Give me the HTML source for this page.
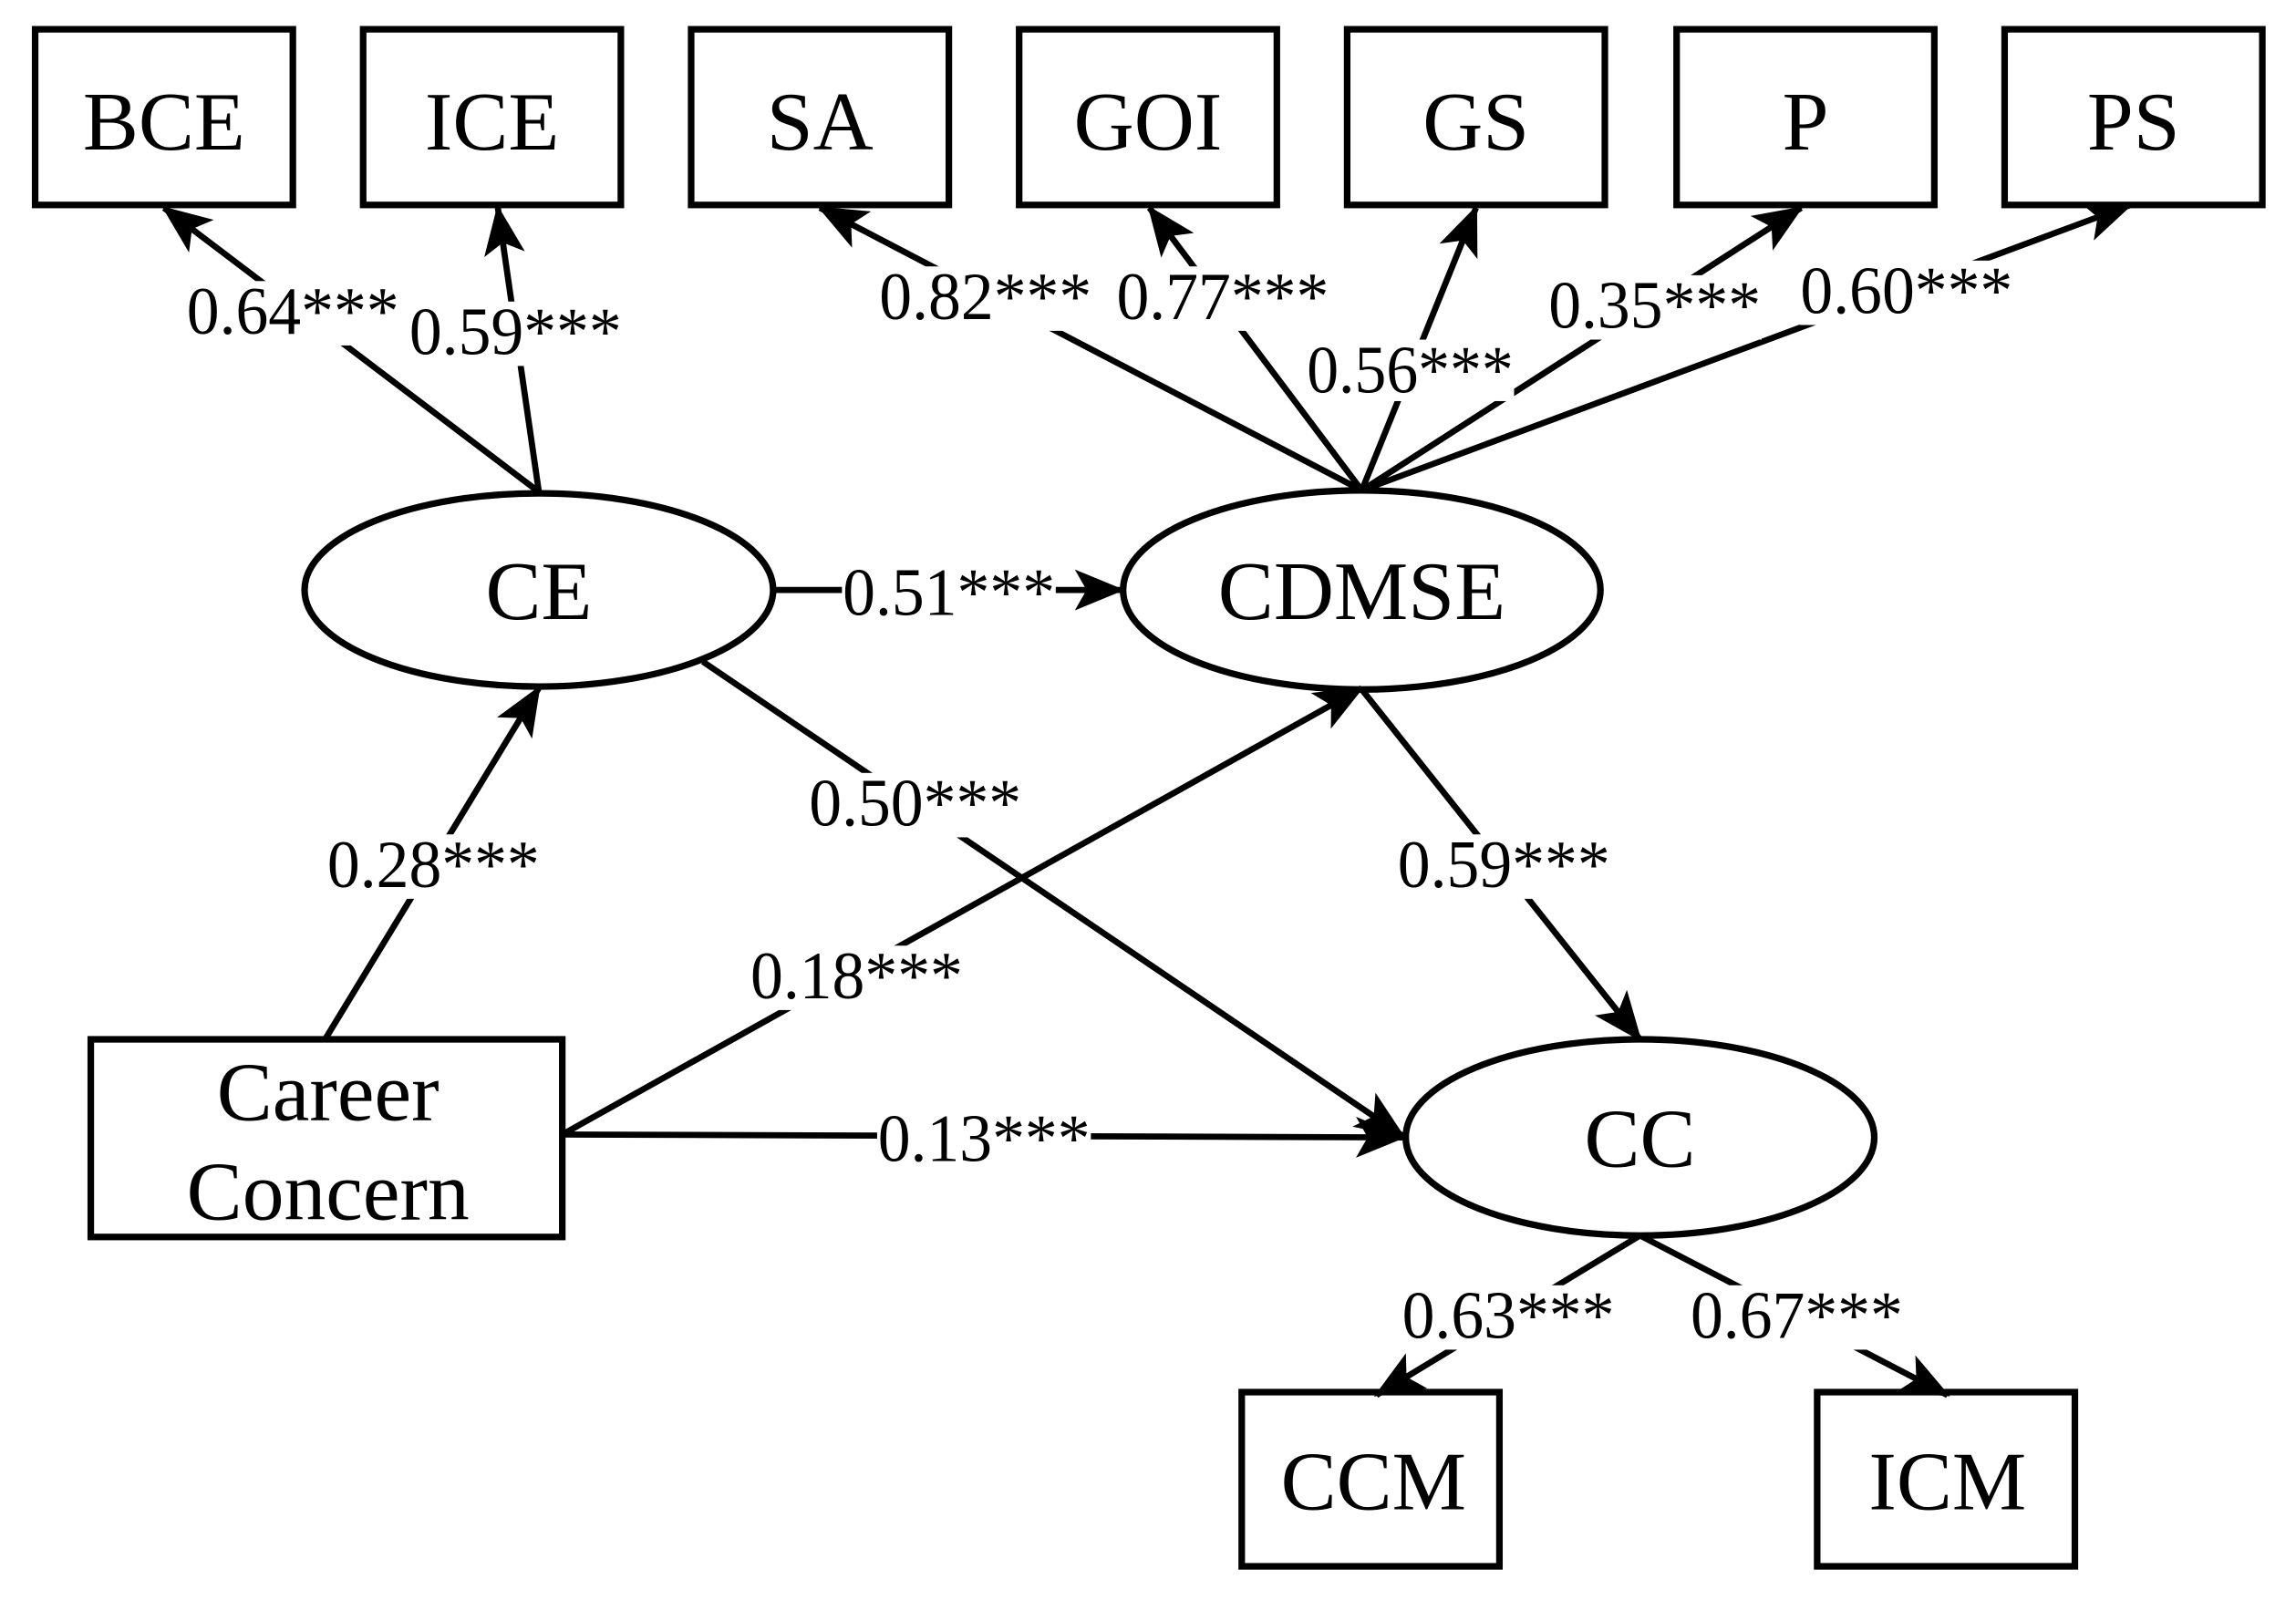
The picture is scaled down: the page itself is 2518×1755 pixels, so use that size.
<!DOCTYPE html>
<html><head><meta charset="utf-8"><style>
html,body{margin:0;padding:0;background:#fff;}
svg{display:block;}
text{font-family:"Liberation Serif",serif;fill:#000;}
.n{font-size:57px;}
.l{font-size:46px;}
</style></head><body>
<svg width="2518" height="1755" viewBox="0 0 1568 1093" preserveAspectRatio="none" xmlns="http://www.w3.org/2000/svg">
<defs>
<marker id="a" markerUnits="userSpaceOnUse" markerWidth="34" markerHeight="28" refX="32" refY="14" orient="auto">
<path d="M0,0 L34,14 L0,28 L8,14 Z" fill="#000"/>
</marker>
</defs>
<g fill="none" stroke="#000" stroke-width="4.2">
<rect x="24" y="20" width="176" height="120" stroke-width="4.5"/>
<rect x="248" y="20" width="176" height="120" stroke-width="4.5"/>
<rect x="472" y="20" width="176" height="120" stroke-width="4.5"/>
<rect x="696" y="20" width="176" height="120" stroke-width="4.5"/>
<rect x="920" y="20" width="176" height="120" stroke-width="4.5"/>
<rect x="1145" y="20" width="176" height="120" stroke-width="4.5"/>
<rect x="1369" y="20" width="176" height="120" stroke-width="4.5"/>
<rect x="62" y="710" width="322" height="135" stroke-width="4.5"/>
<rect x="848" y="951" width="176" height="119" stroke-width="4.5"/>
<rect x="1241" y="951" width="176" height="119" stroke-width="4.5"/>
<ellipse cx="368" cy="403" rx="160" ry="66" stroke-width="4.5"/>
<ellipse cx="930" cy="403" rx="163" ry="68" stroke-width="4.5"/>
<ellipse cx="1120" cy="777" rx="160" ry="67" stroke-width="4.5"/>

<line x1="368" y1="336" x2="112" y2="142" marker-end="url(#a)"/>
<line x1="368" y1="336" x2="340" y2="142" marker-end="url(#a)"/>
<line x1="930" y1="335" x2="560" y2="142" marker-end="url(#a)"/>
<line x1="930" y1="335" x2="785" y2="142" marker-end="url(#a)"/>
<line x1="930" y1="335" x2="1008" y2="142" marker-end="url(#a)"/>
<line x1="930" y1="335" x2="1230" y2="142" marker-end="url(#a)"/>
<line x1="930" y1="335" x2="1455" y2="140" marker-end="url(#a)"/>
<line x1="528" y1="403" x2="766" y2="403" marker-end="url(#a)"/>
<line x1="480" y1="452" x2="958" y2="776" marker-end="url(#a)"/>
<line x1="222" y1="710" x2="368" y2="470" marker-end="url(#a)"/>
<line x1="384" y1="775" x2="930" y2="470" marker-end="url(#a)"/>
<line x1="384" y1="775" x2="958" y2="777" marker-end="url(#a)"/>
<line x1="930" y1="471" x2="1120" y2="710" marker-end="url(#a)"/>
<line x1="1120" y1="844" x2="940" y2="953" marker-end="url(#a)"/>
<line x1="1120" y1="844" x2="1330" y2="953" marker-end="url(#a)"/>
</g>
<g fill="#fff">
<rect x="127" y="192" width="146" height="44"/>
<rect x="279" y="206" width="146" height="44"/>
<rect x="600" y="182" width="146" height="44"/>
<rect x="762" y="182" width="146" height="44"/>
<rect x="892" y="232" width="142" height="42"/>
<rect x="1057" y="188" width="146" height="44"/>
<rect x="1229" y="178" width="146" height="44"/>
<rect x="575" y="384" width="146" height="44"/>
<rect x="552" y="528" width="146" height="44"/>
<rect x="223" y="570" width="146" height="44"/>
<rect x="512" y="646" width="146" height="44"/>
<rect x="599" y="757" width="146" height="44"/>
<rect x="954" y="570" width="146" height="44"/>
<rect x="957" y="878" width="146" height="44"/>
<rect x="1154" y="878" width="146" height="44"/>
</g>
<g text-anchor="middle">
<text class="n" x="112" y="102">BCE</text>
<text class="n" x="336" y="102">ICE</text>
<text class="n" x="560" y="102">SA</text>
<text class="n" x="784" y="102">GOI</text>
<text class="n" x="1008" y="102">GS</text>
<text class="n" x="1233" y="102">P</text>
<text class="n" x="1457" y="102">PS</text>
<text class="n" x="368" y="423">CE</text>
<text class="n" x="930" y="423">CDMSE</text>
<text class="n" x="1120" y="797">CC</text>
<text class="n" x="224" y="765">Career</text>
<text class="n" x="224" y="833">Concern</text>
<text class="n" x="938" y="1031">CCM</text>
<text class="n" x="1330" y="1031">ICM</text>

<text class="l" x="200" y="228" textLength="145" lengthAdjust="spacingAndGlyphs">0.64***</text>
<text class="l" x="352" y="242" textLength="145" lengthAdjust="spacingAndGlyphs">0.59***</text>
<text class="l" x="673" y="218" textLength="145" lengthAdjust="spacingAndGlyphs">0.82***</text>
<text class="l" x="835" y="218" textLength="145" lengthAdjust="spacingAndGlyphs">0.77***</text>
<text class="l" x="963" y="268" textLength="141" lengthAdjust="spacingAndGlyphs">0.56***</text>
<text class="l" x="1130" y="224" textLength="145" lengthAdjust="spacingAndGlyphs">0.35***</text>
<text class="l" x="1302" y="214" textLength="145" lengthAdjust="spacingAndGlyphs">0.60***</text>
<text class="l" x="648" y="420" textLength="145" lengthAdjust="spacingAndGlyphs">0.51***</text>
<text class="l" x="625" y="564" textLength="145" lengthAdjust="spacingAndGlyphs">0.50***</text>
<text class="l" x="296" y="606" textLength="145" lengthAdjust="spacingAndGlyphs">0.28***</text>
<text class="l" x="585" y="682" textLength="145" lengthAdjust="spacingAndGlyphs">0.18***</text>
<text class="l" x="672" y="793" textLength="145" lengthAdjust="spacingAndGlyphs">0.13***</text>
<text class="l" x="1027" y="606" textLength="145" lengthAdjust="spacingAndGlyphs">0.59***</text>
<text class="l" x="1030" y="914" textLength="145" lengthAdjust="spacingAndGlyphs">0.63***</text>
<text class="l" x="1227" y="914" textLength="145" lengthAdjust="spacingAndGlyphs">0.67***</text>
</g>
</svg>
</body></html>
